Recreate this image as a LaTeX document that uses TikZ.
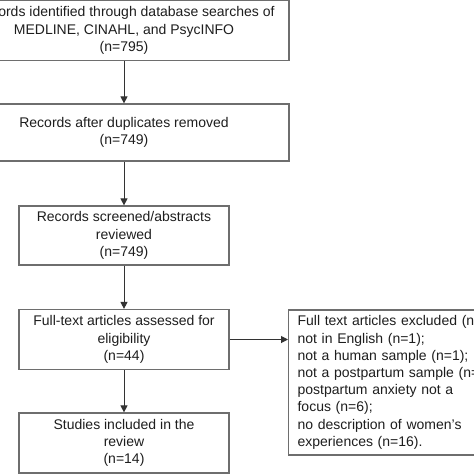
\documentclass[tikz,border=0pt]{standalone}
\usepackage{fontspec}
\setmainfont{Liberation Sans}
\usetikzlibrary{arrows.meta}
\definecolor{boxgray}{HTML}{6E6E6E}
\definecolor{linegray}{HTML}{333333}
\definecolor{textgray}{HTML}{1E1E1E}
\begin{document}
\begin{tikzpicture}[x=1pt, y=-1pt,
    stage/.style={draw=boxgray, line width=1.2pt, fill=white, inner sep=0pt,
                  font=\fontsize{14pt}{17.2pt}\selectfont, text=textgray, align=center},
    note/.style={stage, align=left, text width=240pt, inner xsep=9pt, inner ysep=0pt},
    flow/.style={draw=linegray, line width=1pt, -{Triangle[width=7pt,length=7pt]}},
]
\useasboundingbox (0,0) rectangle (474,474);
\fill[white] (0,0) rectangle (474,474);
\clip (0,0) rectangle (474,474);
% main column
\node[stage, minimum width=330pt, minimum height=60pt] (found) at (124,30.5)
    {\hphantom{Rec}ords identified through database searches of\\MEDLINE, CINAHL, and PsycINFO\\(n=795)};
\node[stage, minimum width=330pt, minimum height=57pt] (dedup) at (124,132.5)
    {Records after duplicates removed\\(n=749)};
\node[stage, minimum width=210pt, minimum height=59pt] (screen) at (124,235.5)
    {Records screened/abstracts\\reviewed\\(n=749)};
\node[stage, minimum width=210pt, minimum height=60pt] (fulltext) at (124,339.5)
    {Full-text articles assessed for\\eligibility\\(n=44)};
\node[stage, minimum width=210pt, minimum height=60pt] (included) at (124,443)
    {Studies included in the\\review\\(n=14)};
% exclusions
\node[note, minimum height=145pt, anchor=west] (excluded) at (288,382.5)
    {Full text articles excluded (n\\not in English (n=1);\\not a human sample (n=1);\\not a postpartum sample (n=\\postpartum anxiety not a\\focus (n=6);\\no description of women’s\\experiences (n=16).};
% arrows
\draw[flow] (found) -- (dedup);
\draw[flow] (dedup) -- (screen);
\draw[flow] (screen) -- (fulltext);
\draw[flow] (fulltext) -- (included);
\draw[flow] (fulltext.east) -- (fulltext.east -| excluded.west);
\end{tikzpicture}
\end{document}
